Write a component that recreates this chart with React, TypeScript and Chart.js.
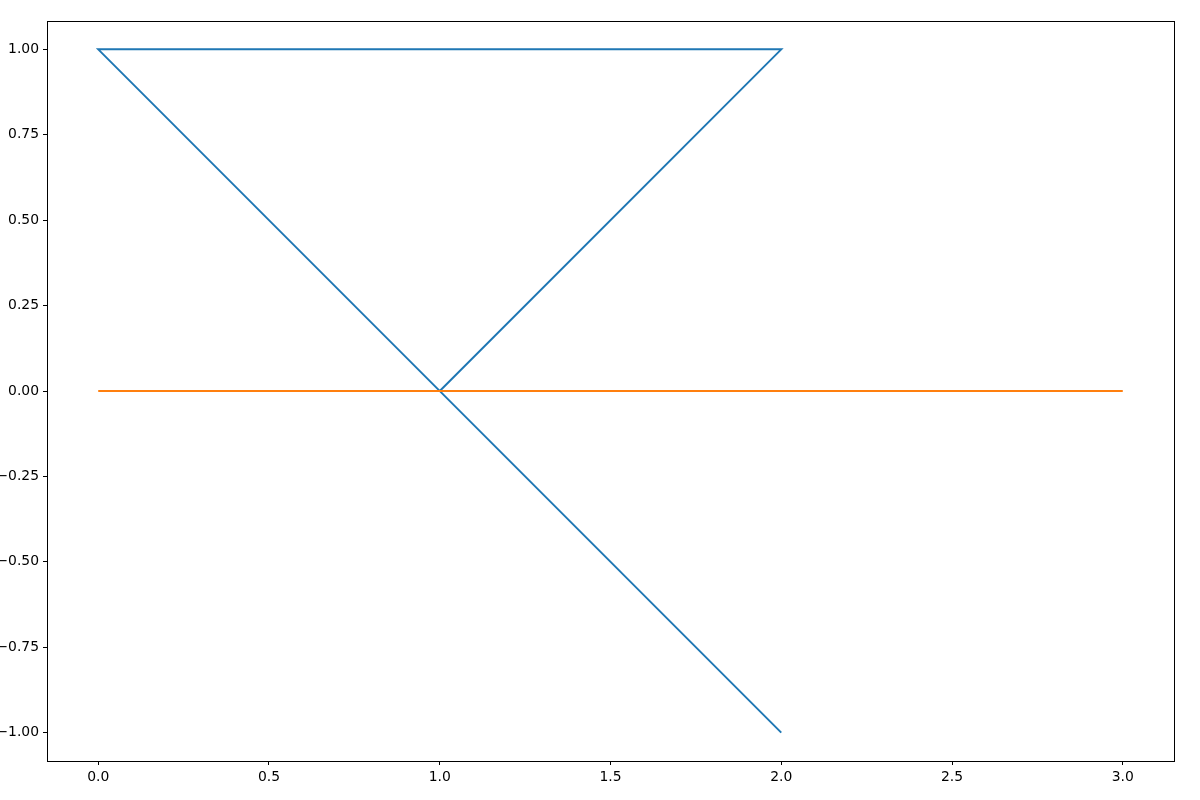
import React, { useEffect, useRef } from "react";
import { Chart, registerables } from "chart.js";

Chart.register(...registerables);

const blueX = [2, 0, 2, 1];
const blueY = [-1, 1, 1, 0];
const orangeX = [0, 1, 2, 3];
const orangeY = [0, 0, 0, 0];
const xTicks = [0, 0.5, 1, 1.5, 2, 2.5, 3];
const yTicks = [-1, -0.75, -0.5, -0.25, 0, 0.25, 0.5, 0.75, 1];

const fmt = (v: number, d: number) => {
  const s = Math.abs(v).toFixed(d);
  return v < 0 ? "\u2212" + s : s;
};

const framePlugin = {
  id: "frame",
  afterDraw(chart: any) {
    const { ctx, chartArea } = chart;
    ctx.save();
    ctx.strokeStyle = "#000";
    ctx.lineWidth = 1;
    ctx.strokeRect(
      Math.round(chartArea.left) + 0.5,
      Math.round(chartArea.top) + 0.5,
      Math.round(chartArea.right - chartArea.left),
      Math.round(chartArea.bottom - chartArea.top)
    );
    ctx.restore();
  },
};

export default function App() {
  const ref = useRef<HTMLCanvasElement>(null);
  useEffect(() => {
    document.body.style.margin = "0";
    const font = { family: "DejaVu Sans", size: 13.9 };
    const chart = new Chart(ref.current as HTMLCanvasElement, {
      type: "scatter",
      data: {
        datasets: [
          {
            label: "orange",
            data: orangeX.map((x, i) => ({ x, y: orangeY[i] })),
            borderColor: "#ff7f0e",
            backgroundColor: "#ff7f0e",
            showLine: true,
            pointRadius: 0,
            borderWidth: 2,
            order: 1,
          },
          {
            label: "blue",
            data: blueX.map((x, i) => ({ x, y: blueY[i] })),
            borderColor: "#1f77b4",
            backgroundColor: "#1f77b4",
            showLine: true,
            pointRadius: 0,
            borderWidth: 2,
            order: 2,
          },
        ],
      },
      plugins: [framePlugin],
      options: {
        animation: false,
        responsive: false,
        devicePixelRatio: 1,
        layout: { padding: { top: 21, right: 26, left: 0, bottom: 0 } },
        plugins: { legend: { display: false }, tooltip: { enabled: false } },
        scales: {
          x: {
            type: "linear",
            min: -0.15,
            max: 3.15,
            afterBuildTicks: (s: any) => {
              s.ticks = xTicks.map((v) => ({ value: v }));
            },
            afterFit: (s: any) => {
              s.height = 39;
            },
            grid: {
              drawOnChartArea: false,
              drawTicks: true,
              tickLength: 4,
              tickColor: "#000",
              color: "#000",
            },
            border: { display: true, color: "#000", width: 1 },
            ticks: {
              color: "#000",
              font,
              padding: 4,
              maxRotation: 0,
              callback: (v: any) => fmt(Number(v), 1),
            },
          },
          y: {
            type: "linear",
            min: -1.083,
            max: 1.083,
            afterBuildTicks: (s: any) => {
              s.ticks = yTicks.map((v) => ({ value: v }));
            },
            afterFit: (s: any) => {
              s.width = 47;
            },
            grid: {
              drawOnChartArea: false,
              drawTicks: true,
              tickLength: 4,
              tickColor: "#000",
              color: "#000",
            },
            border: { display: true, color: "#000", width: 1 },
            ticks: {
              color: "#000",
              font,
              padding: 4,
              callback: (v: any) => fmt(Number(v), 2),
            },
          },
        },
      },
    } as any);
    return () => chart.destroy();
  }, []);
  return (
    <div style={{ position: "absolute", left: 0, top: 0, width: 1200, height: 800, background: "#fff" }}>
      <canvas ref={ref} width={1200} height={800} />
    </div>
  );
}
